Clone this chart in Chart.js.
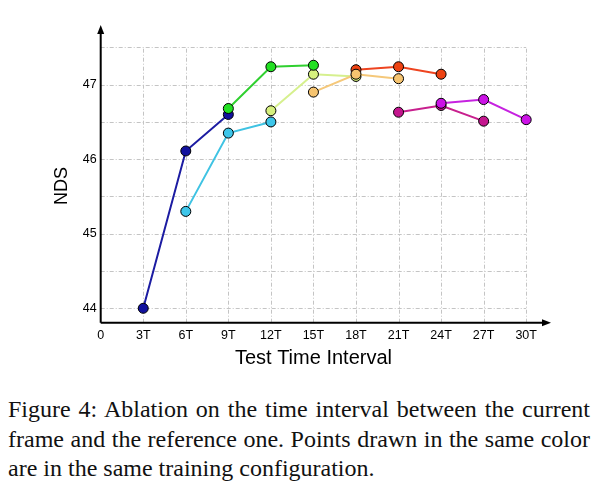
<!DOCTYPE html>
<html>
<head>
<meta charset="utf-8">
<script src="https://cdn.jsdelivr.net/npm/chart.js@4"></script>
<style>
  html, body { margin: 0; padding: 0; background: #fff; }
  body { width: 598px; height: 494px; position: relative; overflow: hidden; }
  #wrap { position: absolute; left: 0; top: 0; width: 598px; height: 390px; }
  #caption {
    position: absolute; left: 8px; top: 395px; width: 582px;
    font-family: "Liberation Serif", "Times New Roman", serif;
    font-size: 24px; line-height: 29.5px; color: #111;
  }
  #caption .j { text-align: justify; text-align-last: justify; white-space: nowrap; }
</style>
</head>
<body>
<div id="wrap"><canvas id="grafico" width="598" height="390"></canvas></div>
<div id="caption">
  <div class="j">Figure 4: Ablation on the time interval between the current</div>
  <div class="j">frame and the reference one. Points drawn in the same color</div>
  <div>are in the same training configuration.</div>
</div>
<script>
// intervalos de teste (multiplos de T) e NDS de cada configuracao
const xTicks = [0, 3, 6, 9, 12, 15, 18, 21, 24, 27, 30];
const xLabels = ['0', '3T', '6T', '9T', '12T', '15T', '18T', '21T', '24T', '27T', '30T'];
const yTicks = [44, 45, 46, 47];
const yGrid = [44, 44.5, 45, 45.5, 46, 46.5, 47, 47.5];

const azulEscuroX = [3, 6, 9];
const azulEscuroY = [44.0, 46.11, 46.60];
const cianoX = [6, 9, 12];
const cianoY = [45.30, 46.35, 46.50];
const verdeX = [9, 12, 15];
const verdeY = [46.68, 47.24, 47.26];
const verdeClaroX = [12, 15, 18];
const verdeClaroY = [46.65, 47.14, 47.11];
const laranjaX = [15, 18, 21];
const laranjaY = [46.90, 47.14, 47.08];
const vermelhoX = [18, 21, 24];
const vermelhoY = [47.20, 47.24, 47.14];
const magentaX = [21, 24, 27];
const magentaY = [46.63, 46.72, 46.51];
const violetaX = [24, 27, 30];
const violetaY = [46.75, 46.80, 46.53];

const pares = (xs, ys) => xs.map((x, i) => ({ x: x, y: ys[i] }));

function serie(xs, ys, corPonto, corLinha, ordem) {
    return {
        data: pares(xs, ys),
        borderColor: corLinha,
        borderWidth: 2,
        pointBackgroundColor: corPonto,
        pointBorderColor: '#000',
        pointBorderWidth: 1,
        pointRadius: 5,
        pointHoverRadius: 5,
        tension: 0,
        fill: false,
        order: ordem
    };
}

const fonteEixo = '"Liberation Sans", Arial, sans-serif';

// grelha tracejada, eixos com setas e titulos
const eixosPlugin = {
    id: 'eixos',
    beforeDatasetsDraw(chart) {
        const { ctx, chartArea, scales } = chart;
        const sx = scales.x, sy = scales.y;
        const x0 = sx.getPixelForValue(0);
        const x30 = sx.getPixelForValue(30);
        const yTop = sy.getPixelForValue(47.5);
        const yBot = chartArea.bottom;
        ctx.save();
        ctx.strokeStyle = '#c4c4c4';
        ctx.lineWidth = 1;
        ctx.setLineDash([4, 2, 1, 2]);
        yGrid.forEach(v => {
            const y = Math.round(sy.getPixelForValue(v)) + 0.5;
            ctx.beginPath();
            ctx.moveTo(x0, y);
            ctx.lineTo(x30, y);
            ctx.stroke();
        });
        xTicks.slice(1).forEach(v => {
            const x = Math.round(sx.getPixelForValue(v)) + 0.5;
            ctx.beginPath();
            ctx.moveTo(x, yBot);
            ctx.lineTo(x, yTop);
            ctx.stroke();
        });
        ctx.setLineDash([]);

        // eixos
        ctx.strokeStyle = '#000';
        ctx.fillStyle = '#000';
        ctx.lineWidth = 2;
        const ax = x0, ay = yBot, topo = chartArea.top, dir = chartArea.right;
        ctx.beginPath();
        ctx.moveTo(ax, ay);
        ctx.lineTo(ax, topo + 6);
        ctx.moveTo(ax, ay);
        ctx.lineTo(dir - 6, ay);
        ctx.stroke();
        ctx.beginPath();
        ctx.moveTo(ax, topo);
        ctx.lineTo(ax - 3.5, topo + 9);
        ctx.lineTo(ax + 3.5, topo + 9);
        ctx.closePath();
        ctx.fill();
        ctx.beginPath();
        ctx.moveTo(dir, ay);
        ctx.lineTo(dir - 9, ay - 3.5);
        ctx.lineTo(dir - 9, ay + 3.5);
        ctx.closePath();
        ctx.fill();
        ctx.restore();
    },
    afterDraw(chart) {
        const { ctx, scales } = chart;
        const sx = scales.x;
        ctx.save();
        ctx.fillStyle = '#000';
        ctx.textAlign = 'center';
        ctx.textBaseline = 'middle';
        ctx.font = '20px ' + fonteEixo;
        ctx.fillText('Test Time Interval', (sx.getPixelForValue(0) + sx.getPixelForValue(30)) / 2, 358);
        ctx.translate(62, 186);
        ctx.rotate(-Math.PI / 2);
        ctx.font = '18px ' + fonteEixo;
        ctx.fillText('NDS', 0, 0);
        ctx.restore();
    }
};

const ctx = document.getElementById('grafico').getContext('2d');
new Chart(ctx, {
    type: 'line',
    data: {
        datasets: [
            serie(azulEscuroX, azulEscuroY, '#11119e', '#1c1ca2', 7),
            serie(cianoX, cianoY, '#3ec6ea', '#3fc3e3', 6),
            serie(verdeClaroX, verdeClaroY, '#d6f07e', '#d6f08e', 5),
            serie(vermelhoX, vermelhoY, '#ee4212', '#ee4420', 4),
            serie(laranjaX, laranjaY, '#f6c470', '#f5c87a', 3),
            serie(verdeX, verdeY, '#22e022', '#30d030', 2),
            serie(magentaX, magentaY, '#c4168e', '#c8208e', 1),
            serie(violetaX, violetaY, '#cc12e6', '#c622e0', 0)
        ]
    },
    options: {
        responsive: false,
        animation: false,
        layout: {
            padding: { top: 25, right: 47, left: 0, bottom: 0 }
        },
        scales: {
            x: {
                type: 'linear',
                min: 0,
                max: 31.75,
                afterBuildTicks: s => { s.ticks = xTicks.map(v => ({ value: v })); },
                afterFit: s => { s.height = 67.3; },
                ticks: {
                    color: '#000',
                    padding: 5,
                    maxRotation: 0,
                    autoSkip: false,
                    font: { family: fonteEixo, size: 12.5 },
                    callback: v => xLabels[xTicks.indexOf(v)]
                },
                grid: { display: false, drawTicks: false },
                border: { display: false }
            },
            y: {
                min: 43.807,
                max: 47.8,
                afterBuildTicks: s => { s.ticks = yTicks.map(v => ({ value: v })); },
                afterFit: s => { s.width = 100.7; },
                ticks: {
                    color: '#000',
                    padding: 4,
                    font: { family: fonteEixo, size: 12.5 },
                    callback: v => String(v)
                },
                grid: { display: false, drawTicks: false },
                border: { display: false }
            }
        },
        plugins: {
            legend: { display: false },
            tooltip: { enabled: false }
        }
    },
    plugins: [eixosPlugin]
});
</script>
</body>
</html>
